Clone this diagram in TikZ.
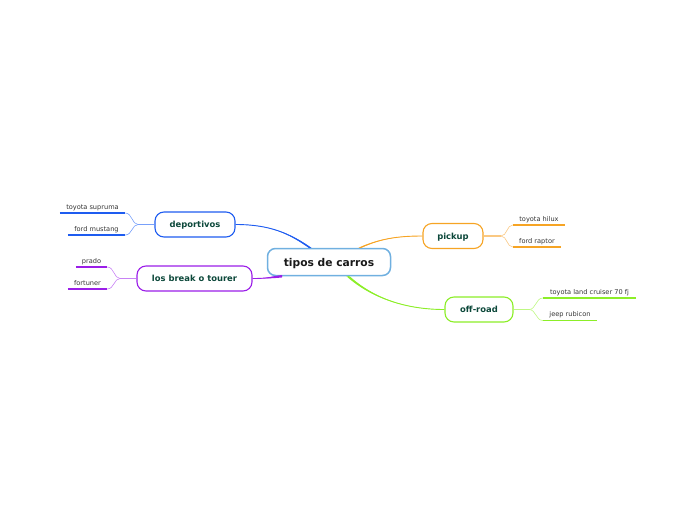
\documentclass[tikz,border=0pt]{standalone}
\usepackage{fontspec}
\setmainfont{DejaVu Sans}
\definecolor{bluec}{RGB}{30,92,240}
\definecolor{bluel}{RGB}{120,160,250}
\definecolor{purc}{RGB}{155,30,232}
\definecolor{purl}{RGB}{200,130,245}
\definecolor{orac}{RGB}{246,164,36}
\definecolor{oral}{RGB}{250,200,130}
\definecolor{grec}{RGB}{140,238,40}
\definecolor{grel}{RGB}{190,248,130}
\definecolor{centc}{RGB}{112,176,224}
\definecolor{txtc}{RGB}{12,72,58}
\begin{document}
\begin{tikzpicture}[x=1pt,y=-1pt,
  mainnode/.style={rounded corners=9pt, line width=1.1pt, fill=white, text=txtc,
     font=\fontsize{8.4}{10}\selectfont\bfseries, inner sep=0pt, minimum height=25pt, text depth=0pt},
  centernode/.style={rounded corners=8pt, line width=1.5pt, draw=centc, fill=white, text=black!90,
     font=\fontsize{10.7}{12}\selectfont\bfseries, inner sep=0pt, minimum width=123pt, minimum height=27pt, text depth=0pt},
  leaf/.style={anchor=south, inner xsep=0pt, inner ysep=2pt, text height=5pt, text depth=1.5pt,
     font=\fontsize{6.6}{8}\selectfont, text=black!80},
  uline/.style={line width=1.6pt},
  fork/.style={line width=0.6pt},
  branch/.style={line width=0.9pt}
]
\useasboundingbox (0,0) rectangle (697,520);

% central and main nodes
\node[centernode] (c) at (329,262) {tipos de carros};
\node[mainnode, draw=bluec, minimum width=80pt] (dep) at (195,224.5) {deportivos};
\node[mainnode, draw=purc, minimum width=115pt] (brk) at (194.5,278.5) {los break o tourer};
\node[mainnode, draw=orac, minimum width=60pt] (pik) at (453,236) {pickup};
\node[mainnode, draw=grec, minimum width=68pt] (off) at (479,309.5) {off-road};

% leaves
\node[leaf, minimum width=65pt] (l1) at (92.5,213) {toyota supruma};
\node[leaf, minimum width=57pt] (l2) at (96.5,235) {ford mustang};
\node[leaf, minimum width=31pt] (l3) at (91.5,267) {prado};
\node[leaf, minimum width=39pt] (l4) at (87.5,289) {fortuner};
\node[leaf, minimum width=52pt] (l5) at (539,225) {toyota hilux};
\node[leaf, minimum width=48pt] (l6) at (537,247) {ford raptor};
\node[leaf, minimum width=93pt] (l7) at (589.5,298) {toyota land cruiser 70 fj};
\node[leaf, minimum width=54pt] (l8) at (570,320.5) {jeep rubicon};

\foreach \n/\c in {l1/bluec,l2/bluec,l3/purc,l4/purc,l5/orac,l6/orac,l7/grec,l8/grec}
  \draw[uline, draw=\c] (\n.south west) -- (\n.south east);

% fork points
\coordinate (fdep) at (138,224.5);
\coordinate (fbrk) at (120,278.5);
\coordinate (fpik) at (501,236);
\coordinate (foff) at (529,309.5);

\draw[fork, draw=bluel, line width=0.9pt] (dep.west) -- (fdep);
\draw[fork, draw=bluel] (fdep) .. controls +(-6,0) and +(7,0) .. (l1.south east);
\draw[fork, draw=bluel] (fdep) .. controls +(-6,0) and +(7,0) .. (l2.south east);
\draw[fork, draw=purl, line width=0.9pt] (brk.west) -- (fbrk);
\draw[fork, draw=purl] (fbrk) .. controls +(-6,0) and +(7,0) .. (l3.south east);
\draw[fork, draw=purl] (fbrk) .. controls +(-6,0) and +(7,0) .. (l4.south east);
\draw[fork, draw=oral, line width=1.1pt] (pik.east) -- (fpik);
\draw[fork, draw=oral] (fpik) .. controls +(6,0) and +(-6,0) .. (l5.south west);
\draw[fork, draw=oral] (fpik) .. controls +(6,0) and +(-6,0) .. (l6.south west);
\draw[fork, draw=grel, line width=1.1pt] (off.east) -- (foff);
\draw[fork, draw=grel] (foff) .. controls +(7,0) and +(-7,0) .. (l7.south west);
\draw[fork, draw=grel] (foff) .. controls +(7,0) and +(-7,0) .. (l8.south west);

% main branches (tapered: thin at child, thicker at centre)
\draw[branch, draw=bluec] (dep.east) .. controls +(35,0) and +(-20,-14) .. ([xshift=-19pt]c.north);
\fill[bluec] (dep.east) .. controls +(35,0) and +(-20,-14) .. ([xshift=-20.4pt]c.north)
   -- ([xshift=-17.6pt]c.north) .. controls +(-20,-14) and +(35,0) .. (dep.east) -- cycle;
\draw[branch, draw=purc] (brk.east) .. controls +(14,0) and +(-10,1) .. ([xshift=-47pt]c.south);
\fill[purc] (brk.east) .. controls +(14,0) and +(-10,1) .. ([xshift=-47pt,yshift=1.2pt]c.south)
   -- ([xshift=-47pt,yshift=-1.2pt]c.south) .. controls +(-10,1) and +(14,0) .. (brk.east) -- cycle;
\draw[branch, draw=orac] ([xshift=31pt]c.north) .. controls +(20,-9) and +(-25,0) .. (pik.west);
\fill[orac] ([xshift=29.6pt]c.north) .. controls +(20,-9) and +(-25,0) .. (pik.west)
   .. controls +(-25,0) and +(20,-9) .. ([xshift=32.4pt]c.north) -- cycle;
\draw[branch, draw=grec] ([xshift=19pt]c.south) .. controls +(27,24) and +(-35,0) .. (off.west);
\fill[grec] ([xshift=17.4pt]c.south) .. controls +(27,24) and +(-35,0) .. (off.west)
   .. controls +(-35,0) and +(27,24) .. ([xshift=20.6pt]c.south) -- cycle;
\end{tikzpicture}
\end{document}
